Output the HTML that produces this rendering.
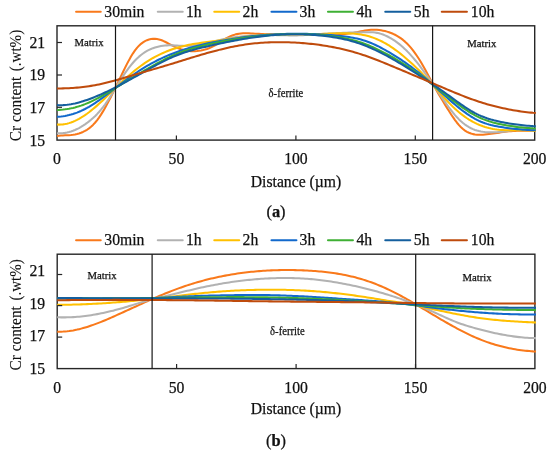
<!DOCTYPE html>
<html><head><meta charset="utf-8"><title>Cr content vs distance</title>
<style>
html,body{margin:0;padding:0;background:#fff;}
svg{display:block;}
text{font-family:"Liberation Serif","DejaVu Serif",serif;fill:#111;stroke:#111;stroke-width:0.25px;}
.t15{font-size:15.7px;}
.t17{font-size:17.2px;stroke-width:0.1px;}
.t11{font-size:10.7px;}
.t12{font-size:12.6px;}
.cap{font-size:16.4px;}
</style></head><body>
<svg width="550" height="452" viewBox="0 0 550 452">
<rect width="550" height="452" fill="#fff"/>
<line x1="76.1" y1="11.8" x2="100.7" y2="11.8" stroke="#F9791B" stroke-width="2.1" stroke-linecap="round"/>
<text x="104.3" y="16.8" class="t15">30min</text>
<line x1="157.8" y1="11.8" x2="182.7" y2="11.8" stroke="#B2B2B2" stroke-width="2.1" stroke-linecap="round"/>
<text x="186" y="16.8" class="t15">1h</text>
<line x1="214.3" y1="11.8" x2="239.2" y2="11.8" stroke="#FFC000" stroke-width="2.1" stroke-linecap="round"/>
<text x="242.6" y="16.8" class="t15">2h</text>
<line x1="271.5" y1="11.8" x2="296.4" y2="11.8" stroke="#1269CC" stroke-width="2.1" stroke-linecap="round"/>
<text x="299.6" y="16.8" class="t15">3h</text>
<line x1="328.0" y1="11.8" x2="352.9" y2="11.8" stroke="#3FB034" stroke-width="2.1" stroke-linecap="round"/>
<text x="356.4" y="16.8" class="t15">4h</text>
<line x1="385.3" y1="11.8" x2="410.2" y2="11.8" stroke="#145F9E" stroke-width="2.1" stroke-linecap="round"/>
<text x="413.8" y="16.8" class="t15">5h</text>
<line x1="441.8" y1="11.8" x2="466.9" y2="11.8" stroke="#BF4B0C" stroke-width="2.1" stroke-linecap="round"/>
<text x="470.8" y="16.8" class="t15">10h</text>
<rect x="57.0" y="25.8" width="477.70000000000005" height="114.3" fill="none" stroke="#262626" stroke-width="1.4"/>
<path d="M57.0,136.08 L59.0,135.77 L61.0,135.56 L63.0,135.43 L65.0,135.35 L67.0,135.27 L69.0,135.17 L71.0,135.02 L73.0,134.78 L75.0,134.46 L77.0,134.02 L79.0,133.47 L81.0,132.78 L83.0,131.94 L85.0,130.94 L87.0,129.76 L89.0,128.37 L91.0,126.75 L93.0,124.89 L95.0,122.75 L97.0,120.32 L99.0,117.60 L101.0,114.62 L103.0,111.40 L105.0,107.96 L107.0,104.35 L109.0,100.57 L111.0,96.67 L113.0,92.65 L115.0,88.56 L117.0,84.42 L119.0,80.25 L121.0,76.08 L123.0,71.94 L125.0,67.86 L127.0,63.91 L129.0,60.13 L131.0,56.58 L133.0,53.31 L135.0,50.39 L137.0,47.84 L139.0,45.67 L141.0,43.84 L143.0,42.33 L145.0,41.12 L147.0,40.19 L149.0,39.51 L151.0,39.07 L153.0,38.85 L155.0,38.85 L157.0,39.06 L159.0,39.46 L161.0,40.05 L163.0,40.82 L165.0,41.73 L167.0,42.73 L169.0,43.79 L171.0,44.86 L173.0,45.90 L175.0,46.87 L177.0,47.75 L179.0,48.54 L181.0,49.23 L183.0,49.82 L185.0,50.31 L187.0,50.69 L189.0,50.97 L191.0,51.14 L193.0,51.20 L195.0,51.17 L197.0,51.04 L199.0,50.82 L201.0,50.51 L203.0,50.10 L205.0,49.60 L207.0,48.98 L209.0,48.25 L211.0,47.39 L213.0,46.39 L215.0,45.27 L217.0,44.04 L219.0,42.75 L221.0,41.45 L223.0,40.16 L225.0,38.94 L227.0,37.83 L229.0,36.84 L231.0,35.97 L233.0,35.23 L235.0,34.61 L237.0,34.12 L239.0,33.74 L241.0,33.49 L243.0,33.34 L245.0,33.28 L247.0,33.29 L249.0,33.35 L251.0,33.44 L253.0,33.55 L255.0,33.66 L257.0,33.78 L259.0,33.89 L261.0,33.99 L263.0,34.09 L265.0,34.17 L267.0,34.23 L269.0,34.28 L271.0,34.33 L273.0,34.37 L275.0,34.41 L277.0,34.47 L279.0,34.53 L281.0,34.62 L283.0,34.70 L285.0,34.79 L287.0,34.86 L289.0,34.92 L291.0,34.95 L293.0,34.95 L295.0,34.93 L297.0,34.88 L299.0,34.82 L301.0,34.74 L303.0,34.66 L305.0,34.58 L307.0,34.49 L309.0,34.41 L311.0,34.33 L313.0,34.26 L315.0,34.19 L317.0,34.12 L319.0,34.06 L321.0,34.00 L323.0,33.96 L325.0,33.94 L327.0,33.93 L329.0,33.94 L331.0,33.98 L333.0,34.04 L335.0,34.11 L337.0,34.17 L339.0,34.20 L341.0,34.20 L343.0,34.14 L345.0,34.02 L347.0,33.83 L349.0,33.60 L351.0,33.31 L353.0,32.97 L355.0,32.59 L357.0,32.18 L359.0,31.75 L361.0,31.32 L363.0,30.90 L365.0,30.52 L367.0,30.19 L369.0,29.94 L371.0,29.78 L373.0,29.71 L375.0,29.73 L377.0,29.83 L379.0,30.03 L381.0,30.30 L383.0,30.65 L385.0,31.09 L387.0,31.62 L389.0,32.24 L391.0,32.97 L393.0,33.80 L395.0,34.76 L397.0,35.83 L399.0,37.04 L401.0,38.41 L403.0,39.93 L405.0,41.63 L407.0,43.51 L409.0,45.60 L411.0,47.90 L413.0,50.39 L415.0,53.08 L417.0,55.96 L419.0,59.03 L421.0,62.29 L423.0,65.72 L425.0,69.28 L427.0,72.94 L429.0,76.65 L431.0,80.37 L433.0,84.06 L435.0,87.67 L437.0,91.19 L439.0,94.64 L441.0,98.01 L443.0,101.33 L445.0,104.60 L447.0,107.84 L449.0,111.04 L451.0,114.18 L453.0,117.21 L455.0,120.07 L457.0,122.73 L459.0,125.14 L461.0,127.25 L463.0,129.05 L465.0,130.56 L467.0,131.80 L469.0,132.79 L471.0,133.56 L473.0,134.12 L475.0,134.50 L477.0,134.73 L479.0,134.81 L481.0,134.79 L483.0,134.68 L485.0,134.50 L487.0,134.29 L489.0,134.05 L491.0,133.79 L493.0,133.51 L495.0,133.22 L497.0,132.93 L499.0,132.63 L501.0,132.34 L503.0,132.06 L505.0,131.79 L507.0,131.54 L509.0,131.32 L511.0,131.13 L513.0,130.98 L515.0,130.87 L517.0,130.78 L519.0,130.72 L521.0,130.68 L523.0,130.66 L525.0,130.64 L527.0,130.63 L529.0,130.61 L531.0,130.58 L533.0,130.52 L535.8,130.46" fill="none" stroke="#F9791B" stroke-width="2.05" stroke-linejoin="round" stroke-linecap="butt"/>
<path d="M57.0,133.23 L59.0,133.31 L61.0,133.28 L63.0,133.14 L65.0,132.88 L67.0,132.52 L69.0,132.04 L71.0,131.46 L73.0,130.76 L75.0,129.96 L77.0,129.05 L79.0,128.04 L81.0,126.92 L83.0,125.69 L85.0,124.36 L87.0,122.94 L89.0,121.41 L91.0,119.78 L93.0,118.03 L95.0,116.17 L97.0,114.16 L99.0,112.01 L101.0,109.69 L103.0,107.20 L105.0,104.52 L107.0,101.65 L109.0,98.62 L111.0,95.46 L113.0,92.23 L115.0,88.94 L117.0,85.65 L119.0,82.40 L121.0,79.21 L123.0,76.14 L125.0,73.18 L127.0,70.35 L129.0,67.66 L131.0,65.12 L133.0,62.74 L135.0,60.53 L137.0,58.50 L139.0,56.65 L141.0,54.98 L143.0,53.48 L145.0,52.14 L147.0,50.95 L149.0,49.90 L151.0,48.98 L153.0,48.17 L155.0,47.49 L157.0,46.90 L159.0,46.42 L161.0,46.04 L163.0,45.74 L165.0,45.53 L167.0,45.39 L169.0,45.33 L171.0,45.34 L173.0,45.39 L175.0,45.49 L177.0,45.60 L179.0,45.71 L181.0,45.82 L183.0,45.89 L185.0,45.92 L187.0,45.89 L189.0,45.81 L191.0,45.67 L193.0,45.48 L195.0,45.24 L197.0,44.96 L199.0,44.65 L201.0,44.29 L203.0,43.91 L205.0,43.50 L207.0,43.06 L209.0,42.61 L211.0,42.15 L213.0,41.68 L215.0,41.21 L217.0,40.74 L219.0,40.27 L221.0,39.82 L223.0,39.37 L225.0,38.95 L227.0,38.54 L229.0,38.15 L231.0,37.79 L233.0,37.46 L235.0,37.16 L237.0,36.89 L239.0,36.65 L241.0,36.43 L243.0,36.23 L245.0,36.06 L247.0,35.90 L249.0,35.76 L251.0,35.63 L253.0,35.51 L255.0,35.41 L257.0,35.32 L259.0,35.24 L261.0,35.18 L263.0,35.13 L265.0,35.09 L267.0,35.06 L269.0,35.05 L271.0,35.05 L273.0,35.06 L275.0,35.08 L277.0,35.11 L279.0,35.15 L281.0,35.20 L283.0,35.25 L285.0,35.30 L287.0,35.35 L289.0,35.40 L291.0,35.43 L293.0,35.44 L295.0,35.43 L297.0,35.40 L299.0,35.34 L301.0,35.25 L303.0,35.14 L305.0,35.01 L307.0,34.88 L309.0,34.74 L311.0,34.60 L313.0,34.46 L315.0,34.34 L317.0,34.23 L319.0,34.12 L321.0,34.01 L323.0,33.91 L325.0,33.81 L327.0,33.70 L329.0,33.59 L331.0,33.48 L333.0,33.36 L335.0,33.24 L337.0,33.13 L339.0,33.01 L341.0,32.91 L343.0,32.82 L345.0,32.74 L347.0,32.68 L349.0,32.63 L351.0,32.59 L353.0,32.55 L355.0,32.51 L357.0,32.48 L359.0,32.43 L361.0,32.37 L363.0,32.30 L365.0,32.23 L367.0,32.19 L369.0,32.18 L371.0,32.22 L373.0,32.34 L375.0,32.55 L377.0,32.87 L379.0,33.30 L381.0,33.87 L383.0,34.55 L385.0,35.34 L387.0,36.25 L389.0,37.27 L391.0,38.40 L393.0,39.63 L395.0,40.95 L397.0,42.38 L399.0,43.91 L401.0,45.55 L403.0,47.29 L405.0,49.13 L407.0,51.09 L409.0,53.15 L411.0,55.33 L413.0,57.60 L415.0,59.98 L417.0,62.44 L419.0,64.98 L421.0,67.60 L423.0,70.29 L425.0,73.03 L427.0,75.82 L429.0,78.66 L431.0,81.53 L433.0,84.43 L435.0,87.35 L437.0,90.28 L439.0,93.22 L441.0,96.14 L443.0,99.06 L445.0,101.94 L447.0,104.76 L449.0,107.51 L451.0,110.16 L453.0,112.70 L455.0,115.09 L457.0,117.33 L459.0,119.39 L461.0,121.28 L463.0,122.99 L465.0,124.54 L467.0,125.92 L469.0,127.15 L471.0,128.23 L473.0,129.15 L475.0,129.93 L477.0,130.58 L479.0,131.11 L481.0,131.53 L483.0,131.85 L485.0,132.08 L487.0,132.23 L489.0,132.32 L491.0,132.36 L493.0,132.34 L495.0,132.27 L497.0,132.17 L499.0,132.02 L501.0,131.84 L503.0,131.63 L505.0,131.39 L507.0,131.13 L509.0,130.85 L511.0,130.57 L513.0,130.30 L515.0,130.04 L517.0,129.80 L519.0,129.59 L521.0,129.43 L523.0,129.31 L525.0,129.25 L527.0,129.26 L529.0,129.32 L531.0,129.46 L533.0,129.67 L535.8,129.91" fill="none" stroke="#B2B2B2" stroke-width="2.05" stroke-linejoin="round" stroke-linecap="butt"/>
<path d="M57.0,124.58 L59.0,124.63 L61.0,124.56 L63.0,124.38 L65.0,124.07 L67.0,123.66 L69.0,123.13 L71.0,122.49 L73.0,121.74 L75.0,120.89 L77.0,119.93 L79.0,118.88 L81.0,117.72 L83.0,116.48 L85.0,115.15 L87.0,113.73 L89.0,112.24 L91.0,110.68 L93.0,109.06 L95.0,107.37 L97.0,105.63 L99.0,103.84 L101.0,102.01 L103.0,100.14 L105.0,98.24 L107.0,96.32 L109.0,94.37 L111.0,92.42 L113.0,90.46 L115.0,88.51 L117.0,86.56 L119.0,84.63 L121.0,82.72 L123.0,80.84 L125.0,78.99 L127.0,77.18 L129.0,75.41 L131.0,73.68 L133.0,72.00 L135.0,70.36 L137.0,68.77 L139.0,67.23 L141.0,65.74 L143.0,64.30 L145.0,62.92 L147.0,61.61 L149.0,60.34 L151.0,59.14 L153.0,57.98 L155.0,56.88 L157.0,55.83 L159.0,54.83 L161.0,53.88 L163.0,52.98 L165.0,52.12 L167.0,51.30 L169.0,50.52 L171.0,49.79 L173.0,49.09 L175.0,48.44 L177.0,47.82 L179.0,47.24 L181.0,46.69 L183.0,46.18 L185.0,45.70 L187.0,45.26 L189.0,44.84 L191.0,44.46 L193.0,44.10 L195.0,43.77 L197.0,43.45 L199.0,43.16 L201.0,42.87 L203.0,42.60 L205.0,42.34 L207.0,42.08 L209.0,41.82 L211.0,41.56 L213.0,41.29 L215.0,41.02 L217.0,40.74 L219.0,40.47 L221.0,40.18 L223.0,39.90 L225.0,39.61 L227.0,39.33 L229.0,39.04 L231.0,38.75 L233.0,38.47 L235.0,38.18 L237.0,37.90 L239.0,37.62 L241.0,37.35 L243.0,37.09 L245.0,36.83 L247.0,36.58 L249.0,36.34 L251.0,36.11 L253.0,35.89 L255.0,35.69 L257.0,35.50 L259.0,35.32 L261.0,35.16 L263.0,35.01 L265.0,34.87 L267.0,34.75 L269.0,34.64 L271.0,34.55 L273.0,34.46 L275.0,34.39 L277.0,34.33 L279.0,34.28 L281.0,34.24 L283.0,34.22 L285.0,34.19 L287.0,34.18 L289.0,34.17 L291.0,34.17 L293.0,34.17 L295.0,34.17 L297.0,34.17 L299.0,34.17 L301.0,34.17 L303.0,34.17 L305.0,34.16 L307.0,34.15 L309.0,34.13 L311.0,34.11 L313.0,34.08 L315.0,34.05 L317.0,34.01 L319.0,33.96 L321.0,33.90 L323.0,33.84 L325.0,33.77 L327.0,33.69 L329.0,33.61 L331.0,33.54 L333.0,33.47 L335.0,33.40 L337.0,33.35 L339.0,33.30 L341.0,33.27 L343.0,33.26 L345.0,33.27 L347.0,33.31 L349.0,33.37 L351.0,33.46 L353.0,33.59 L355.0,33.75 L357.0,33.96 L359.0,34.22 L361.0,34.53 L363.0,34.89 L365.0,35.32 L367.0,35.80 L369.0,36.35 L371.0,36.96 L373.0,37.64 L375.0,38.38 L377.0,39.19 L379.0,40.07 L381.0,41.02 L383.0,42.03 L385.0,43.11 L387.0,44.26 L389.0,45.49 L391.0,46.78 L393.0,48.13 L395.0,49.55 L397.0,51.02 L399.0,52.55 L401.0,54.14 L403.0,55.77 L405.0,57.45 L407.0,59.17 L409.0,60.94 L411.0,62.74 L413.0,64.58 L415.0,66.46 L417.0,68.38 L419.0,70.33 L421.0,72.32 L423.0,74.35 L425.0,76.42 L427.0,78.53 L429.0,80.68 L431.0,82.86 L433.0,85.08 L435.0,87.33 L437.0,89.60 L439.0,91.86 L441.0,94.12 L443.0,96.36 L445.0,98.57 L447.0,100.74 L449.0,102.86 L451.0,104.90 L453.0,106.87 L455.0,108.76 L457.0,110.56 L459.0,112.27 L461.0,113.89 L463.0,115.43 L465.0,116.88 L467.0,118.25 L469.0,119.54 L471.0,120.74 L473.0,121.87 L475.0,122.91 L477.0,123.88 L479.0,124.76 L481.0,125.58 L483.0,126.31 L485.0,126.98 L487.0,127.58 L489.0,128.10 L491.0,128.57 L493.0,128.96 L495.0,129.30 L497.0,129.57 L499.0,129.79 L501.0,129.95 L503.0,130.07 L505.0,130.15 L507.0,130.20 L509.0,130.22 L511.0,130.22 L513.0,130.20 L515.0,130.18 L517.0,130.16 L519.0,130.15 L521.0,130.15 L523.0,130.16 L525.0,130.20 L527.0,130.27 L529.0,130.37 L531.0,130.50 L533.0,130.68 L535.8,130.87" fill="none" stroke="#FFC000" stroke-width="2.05" stroke-linejoin="round" stroke-linecap="butt"/>
<path d="M57.0,116.75 L59.0,116.65 L61.0,116.48 L63.0,116.25 L65.0,115.94 L67.0,115.56 L69.0,115.11 L71.0,114.59 L73.0,114.00 L75.0,113.34 L77.0,112.61 L79.0,111.81 L81.0,110.94 L83.0,110.00 L85.0,108.99 L87.0,107.92 L89.0,106.78 L91.0,105.58 L93.0,104.33 L95.0,103.03 L97.0,101.69 L99.0,100.30 L101.0,98.88 L103.0,97.43 L105.0,95.96 L107.0,94.46 L109.0,92.95 L111.0,91.43 L113.0,89.90 L115.0,88.38 L117.0,86.85 L119.0,85.32 L121.0,83.81 L123.0,82.30 L125.0,80.81 L127.0,79.33 L129.0,77.87 L131.0,76.43 L133.0,75.01 L135.0,73.62 L137.0,72.26 L139.0,70.92 L141.0,69.63 L143.0,68.37 L145.0,67.14 L147.0,65.96 L149.0,64.80 L151.0,63.69 L153.0,62.60 L155.0,61.55 L157.0,60.53 L159.0,59.54 L161.0,58.59 L163.0,57.66 L165.0,56.76 L167.0,55.89 L169.0,55.05 L171.0,54.24 L173.0,53.45 L175.0,52.69 L177.0,51.96 L179.0,51.25 L181.0,50.56 L183.0,49.90 L185.0,49.26 L187.0,48.65 L189.0,48.05 L191.0,47.47 L193.0,46.92 L195.0,46.38 L197.0,45.87 L199.0,45.37 L201.0,44.89 L203.0,44.42 L205.0,43.98 L207.0,43.54 L209.0,43.12 L211.0,42.71 L213.0,42.32 L215.0,41.93 L217.0,41.56 L219.0,41.19 L221.0,40.83 L223.0,40.48 L225.0,40.14 L227.0,39.80 L229.0,39.47 L231.0,39.14 L233.0,38.83 L235.0,38.52 L237.0,38.21 L239.0,37.92 L241.0,37.63 L243.0,37.35 L245.0,37.09 L247.0,36.83 L249.0,36.58 L251.0,36.34 L253.0,36.12 L255.0,35.90 L257.0,35.70 L259.0,35.51 L261.0,35.33 L263.0,35.16 L265.0,35.00 L267.0,34.85 L269.0,34.72 L271.0,34.59 L273.0,34.47 L275.0,34.36 L277.0,34.26 L279.0,34.17 L281.0,34.08 L283.0,34.01 L285.0,33.95 L287.0,33.89 L289.0,33.84 L291.0,33.80 L293.0,33.78 L295.0,33.76 L297.0,33.75 L299.0,33.75 L301.0,33.76 L303.0,33.78 L305.0,33.81 L307.0,33.85 L309.0,33.90 L311.0,33.96 L313.0,34.03 L315.0,34.12 L317.0,34.21 L319.0,34.31 L321.0,34.42 L323.0,34.55 L325.0,34.68 L327.0,34.82 L329.0,34.97 L331.0,35.13 L333.0,35.30 L335.0,35.48 L337.0,35.66 L339.0,35.86 L341.0,36.07 L343.0,36.29 L345.0,36.53 L347.0,36.80 L349.0,37.09 L351.0,37.41 L353.0,37.76 L355.0,38.15 L357.0,38.58 L359.0,39.06 L361.0,39.59 L363.0,40.16 L365.0,40.79 L367.0,41.48 L369.0,42.23 L371.0,43.02 L373.0,43.87 L375.0,44.77 L377.0,45.71 L379.0,46.70 L381.0,47.73 L383.0,48.79 L385.0,49.89 L387.0,51.03 L389.0,52.19 L391.0,53.38 L393.0,54.60 L395.0,55.84 L397.0,57.11 L399.0,58.39 L401.0,59.71 L403.0,61.05 L405.0,62.42 L407.0,63.82 L409.0,65.25 L411.0,66.70 L413.0,68.20 L415.0,69.72 L417.0,71.28 L419.0,72.87 L421.0,74.51 L423.0,76.17 L425.0,77.87 L427.0,79.60 L429.0,81.36 L431.0,83.14 L433.0,84.93 L435.0,86.74 L437.0,88.55 L439.0,90.37 L441.0,92.19 L443.0,94.00 L445.0,95.81 L447.0,97.60 L449.0,99.38 L451.0,101.14 L453.0,102.87 L455.0,104.57 L457.0,106.24 L459.0,107.87 L461.0,109.45 L463.0,110.98 L465.0,112.45 L467.0,113.87 L469.0,115.22 L471.0,116.50 L473.0,117.71 L475.0,118.84 L477.0,119.88 L479.0,120.84 L481.0,121.71 L483.0,122.51 L485.0,123.23 L487.0,123.88 L489.0,124.47 L491.0,125.01 L493.0,125.49 L495.0,125.93 L497.0,126.33 L499.0,126.69 L501.0,127.03 L503.0,127.34 L505.0,127.64 L507.0,127.92 L509.0,128.18 L511.0,128.44 L513.0,128.68 L515.0,128.90 L517.0,129.12 L519.0,129.31 L521.0,129.49 L523.0,129.66 L525.0,129.81 L527.0,129.94 L529.0,130.06 L531.0,130.16 L533.0,130.24 L535.8,130.29" fill="none" stroke="#1269CC" stroke-width="2.05" stroke-linejoin="round" stroke-linecap="butt"/>
<path d="M57.0,109.94 L59.0,109.87 L61.0,109.74 L63.0,109.56 L65.0,109.33 L67.0,109.05 L69.0,108.72 L71.0,108.33 L73.0,107.89 L75.0,107.40 L77.0,106.86 L79.0,106.26 L81.0,105.61 L83.0,104.91 L85.0,104.16 L87.0,103.35 L89.0,102.50 L91.0,101.59 L93.0,100.64 L95.0,99.64 L97.0,98.61 L99.0,97.55 L101.0,96.45 L103.0,95.32 L105.0,94.18 L107.0,93.01 L109.0,91.82 L111.0,90.62 L113.0,89.41 L115.0,88.20 L117.0,86.98 L119.0,85.77 L121.0,84.55 L123.0,83.34 L125.0,82.13 L127.0,80.92 L129.0,79.71 L131.0,78.51 L133.0,77.31 L135.0,76.12 L137.0,74.93 L139.0,73.75 L141.0,72.58 L143.0,71.41 L145.0,70.24 L147.0,69.09 L149.0,67.94 L151.0,66.81 L153.0,65.68 L155.0,64.57 L157.0,63.47 L159.0,62.39 L161.0,61.33 L163.0,60.29 L165.0,59.28 L167.0,58.29 L169.0,57.33 L171.0,56.39 L173.0,55.49 L175.0,54.62 L177.0,53.79 L179.0,52.99 L181.0,52.23 L183.0,51.50 L185.0,50.80 L187.0,50.13 L189.0,49.49 L191.0,48.88 L193.0,48.29 L195.0,47.73 L197.0,47.18 L199.0,46.66 L201.0,46.15 L203.0,45.66 L205.0,45.18 L207.0,44.71 L209.0,44.26 L211.0,43.82 L213.0,43.38 L215.0,42.96 L217.0,42.55 L219.0,42.15 L221.0,41.76 L223.0,41.38 L225.0,41.01 L227.0,40.65 L229.0,40.30 L231.0,39.96 L233.0,39.63 L235.0,39.31 L237.0,39.00 L239.0,38.70 L241.0,38.40 L243.0,38.12 L245.0,37.85 L247.0,37.59 L249.0,37.33 L251.0,37.09 L253.0,36.85 L255.0,36.63 L257.0,36.41 L259.0,36.20 L261.0,35.99 L263.0,35.80 L265.0,35.61 L267.0,35.44 L269.0,35.27 L271.0,35.10 L273.0,34.95 L275.0,34.81 L277.0,34.67 L279.0,34.55 L281.0,34.44 L283.0,34.34 L285.0,34.25 L287.0,34.17 L289.0,34.11 L291.0,34.06 L293.0,34.02 L295.0,34.01 L297.0,34.00 L299.0,34.01 L301.0,34.04 L303.0,34.08 L305.0,34.14 L307.0,34.21 L309.0,34.30 L311.0,34.40 L313.0,34.52 L315.0,34.65 L317.0,34.79 L319.0,34.95 L321.0,35.12 L323.0,35.31 L325.0,35.50 L327.0,35.71 L329.0,35.93 L331.0,36.16 L333.0,36.41 L335.0,36.68 L337.0,36.97 L339.0,37.27 L341.0,37.60 L343.0,37.96 L345.0,38.34 L347.0,38.75 L349.0,39.19 L351.0,39.66 L353.0,40.17 L355.0,40.71 L357.0,41.30 L359.0,41.91 L361.0,42.57 L363.0,43.27 L365.0,44.00 L367.0,44.77 L369.0,45.57 L371.0,46.41 L373.0,47.27 L375.0,48.17 L377.0,49.10 L379.0,50.06 L381.0,51.05 L383.0,52.06 L385.0,53.10 L387.0,54.17 L389.0,55.26 L391.0,56.38 L393.0,57.51 L395.0,58.68 L397.0,59.86 L399.0,61.07 L401.0,62.30 L403.0,63.56 L405.0,64.83 L407.0,66.13 L409.0,67.45 L411.0,68.79 L413.0,70.16 L415.0,71.54 L417.0,72.95 L419.0,74.37 L421.0,75.82 L423.0,77.28 L425.0,78.76 L427.0,80.26 L429.0,81.76 L431.0,83.28 L433.0,84.81 L435.0,86.35 L437.0,87.90 L439.0,89.46 L441.0,91.02 L443.0,92.58 L445.0,94.14 L447.0,95.71 L449.0,97.27 L451.0,98.83 L453.0,100.38 L455.0,101.91 L457.0,103.42 L459.0,104.91 L461.0,106.37 L463.0,107.79 L465.0,109.17 L467.0,110.51 L469.0,111.80 L471.0,113.04 L473.0,114.22 L475.0,115.33 L477.0,116.37 L479.0,117.35 L481.0,118.25 L483.0,119.09 L485.0,119.86 L487.0,120.58 L489.0,121.25 L491.0,121.86 L493.0,122.43 L495.0,122.95 L497.0,123.44 L499.0,123.89 L501.0,124.31 L503.0,124.70 L505.0,125.07 L507.0,125.42 L509.0,125.75 L511.0,126.06 L513.0,126.36 L515.0,126.64 L517.0,126.91 L519.0,127.15 L521.0,127.38 L523.0,127.59 L525.0,127.78 L527.0,127.95 L529.0,128.09 L531.0,128.22 L533.0,128.33 L535.8,128.41" fill="none" stroke="#3FB034" stroke-width="2.05" stroke-linejoin="round" stroke-linecap="butt"/>
<path d="M57.0,105.13 L59.0,105.20 L61.0,105.20 L63.0,105.13 L65.0,104.99 L67.0,104.79 L69.0,104.52 L71.0,104.20 L73.0,103.83 L75.0,103.40 L77.0,102.92 L79.0,102.40 L81.0,101.84 L83.0,101.23 L85.0,100.59 L87.0,99.91 L89.0,99.20 L91.0,98.46 L93.0,97.69 L95.0,96.90 L97.0,96.07 L99.0,95.22 L101.0,94.35 L103.0,93.45 L105.0,92.53 L107.0,91.59 L109.0,90.63 L111.0,89.65 L113.0,88.65 L115.0,87.64 L117.0,86.61 L119.0,85.57 L121.0,84.51 L123.0,83.44 L125.0,82.37 L127.0,81.28 L129.0,80.18 L131.0,79.08 L133.0,77.97 L135.0,76.86 L137.0,75.74 L139.0,74.62 L141.0,73.50 L143.0,72.38 L145.0,71.26 L147.0,70.15 L149.0,69.04 L151.0,67.93 L153.0,66.84 L155.0,65.75 L157.0,64.68 L159.0,63.63 L161.0,62.59 L163.0,61.57 L165.0,60.58 L167.0,59.61 L169.0,58.66 L171.0,57.75 L173.0,56.87 L175.0,56.02 L177.0,55.21 L179.0,54.43 L181.0,53.70 L183.0,52.99 L185.0,52.32 L187.0,51.68 L189.0,51.07 L191.0,50.48 L193.0,49.92 L195.0,49.37 L197.0,48.85 L199.0,48.34 L201.0,47.84 L203.0,47.36 L205.0,46.88 L207.0,46.42 L209.0,45.95 L211.0,45.50 L213.0,45.05 L215.0,44.60 L217.0,44.16 L219.0,43.73 L221.0,43.30 L223.0,42.88 L225.0,42.47 L227.0,42.06 L229.0,41.66 L231.0,41.27 L233.0,40.88 L235.0,40.50 L237.0,40.13 L239.0,39.76 L241.0,39.41 L243.0,39.06 L245.0,38.72 L247.0,38.39 L249.0,38.08 L251.0,37.77 L253.0,37.47 L255.0,37.18 L257.0,36.90 L259.0,36.64 L261.0,36.38 L263.0,36.14 L265.0,35.91 L267.0,35.69 L269.0,35.49 L271.0,35.30 L273.0,35.13 L275.0,34.96 L277.0,34.82 L279.0,34.68 L281.0,34.57 L283.0,34.46 L285.0,34.37 L287.0,34.30 L289.0,34.25 L291.0,34.20 L293.0,34.18 L295.0,34.17 L297.0,34.18 L299.0,34.21 L301.0,34.25 L303.0,34.31 L305.0,34.39 L307.0,34.48 L309.0,34.59 L311.0,34.71 L313.0,34.86 L315.0,35.01 L317.0,35.19 L319.0,35.38 L321.0,35.58 L323.0,35.80 L325.0,36.04 L327.0,36.29 L329.0,36.56 L331.0,36.84 L333.0,37.14 L335.0,37.46 L337.0,37.80 L339.0,38.17 L341.0,38.55 L343.0,38.97 L345.0,39.41 L347.0,39.87 L349.0,40.37 L351.0,40.90 L353.0,41.46 L355.0,42.05 L357.0,42.68 L359.0,43.35 L361.0,44.05 L363.0,44.78 L365.0,45.55 L367.0,46.35 L369.0,47.18 L371.0,48.05 L373.0,48.94 L375.0,49.86 L377.0,50.81 L379.0,51.79 L381.0,52.79 L383.0,53.81 L385.0,54.86 L387.0,55.93 L389.0,57.02 L391.0,58.14 L393.0,59.27 L395.0,60.42 L397.0,61.59 L399.0,62.77 L401.0,63.97 L403.0,65.18 L405.0,66.41 L407.0,67.65 L409.0,68.90 L411.0,70.16 L413.0,71.42 L415.0,72.70 L417.0,73.98 L419.0,75.27 L421.0,76.56 L423.0,77.86 L425.0,79.17 L427.0,80.48 L429.0,81.81 L431.0,83.14 L433.0,84.48 L435.0,85.84 L437.0,87.20 L439.0,88.58 L441.0,89.97 L443.0,91.37 L445.0,92.78 L447.0,94.21 L449.0,95.66 L451.0,97.11 L453.0,98.56 L455.0,100.01 L457.0,101.46 L459.0,102.89 L461.0,104.30 L463.0,105.68 L465.0,107.03 L467.0,108.34 L469.0,109.61 L471.0,110.83 L473.0,111.99 L475.0,113.09 L477.0,114.12 L479.0,115.08 L481.0,115.98 L483.0,116.80 L485.0,117.57 L487.0,118.28 L489.0,118.93 L491.0,119.54 L493.0,120.10 L495.0,120.62 L497.0,121.09 L499.0,121.54 L501.0,121.96 L503.0,122.35 L505.0,122.71 L507.0,123.06 L509.0,123.39 L511.0,123.71 L513.0,124.02 L515.0,124.31 L517.0,124.58 L519.0,124.83 L521.0,125.07 L523.0,125.30 L525.0,125.50 L527.0,125.69 L529.0,125.85 L531.0,126.00 L533.0,126.13 L535.8,126.23" fill="none" stroke="#145F9E" stroke-width="2.05" stroke-linejoin="round" stroke-linecap="butt"/>
<path d="M57.0,88.45 L59.0,88.44 L61.0,88.42 L63.0,88.38 L65.0,88.32 L67.0,88.25 L69.0,88.16 L71.0,88.05 L73.0,87.92 L75.0,87.78 L77.0,87.61 L79.0,87.43 L81.0,87.22 L83.0,87.00 L85.0,86.75 L87.0,86.48 L89.0,86.19 L91.0,85.88 L93.0,85.54 L95.0,85.18 L97.0,84.79 L99.0,84.38 L101.0,83.95 L103.0,83.50 L105.0,83.03 L107.0,82.54 L109.0,82.04 L111.0,81.52 L113.0,80.99 L115.0,80.44 L117.0,79.89 L119.0,79.32 L121.0,78.75 L123.0,78.17 L125.0,77.59 L127.0,77.00 L129.0,76.41 L131.0,75.82 L133.0,75.23 L135.0,74.64 L137.0,74.06 L139.0,73.47 L141.0,72.89 L143.0,72.30 L145.0,71.72 L147.0,71.14 L149.0,70.55 L151.0,69.97 L153.0,69.38 L155.0,68.80 L157.0,68.21 L159.0,67.62 L161.0,67.03 L163.0,66.43 L165.0,65.84 L167.0,65.24 L169.0,64.63 L171.0,64.03 L173.0,63.41 L175.0,62.80 L177.0,62.18 L179.0,61.56 L181.0,60.94 L183.0,60.32 L185.0,59.70 L187.0,59.08 L189.0,58.46 L191.0,57.85 L193.0,57.24 L195.0,56.63 L197.0,56.02 L199.0,55.42 L201.0,54.83 L203.0,54.25 L205.0,53.67 L207.0,53.10 L209.0,52.54 L211.0,51.98 L213.0,51.44 L215.0,50.91 L217.0,50.39 L219.0,49.88 L221.0,49.39 L223.0,48.90 L225.0,48.43 L227.0,47.98 L229.0,47.54 L231.0,47.11 L233.0,46.70 L235.0,46.31 L237.0,45.93 L239.0,45.57 L241.0,45.22 L243.0,44.90 L245.0,44.59 L247.0,44.31 L249.0,44.04 L251.0,43.79 L253.0,43.56 L255.0,43.35 L257.0,43.16 L259.0,42.99 L261.0,42.84 L263.0,42.70 L265.0,42.58 L267.0,42.47 L269.0,42.39 L271.0,42.32 L273.0,42.26 L275.0,42.22 L277.0,42.19 L279.0,42.18 L281.0,42.19 L283.0,42.20 L285.0,42.23 L287.0,42.28 L289.0,42.33 L291.0,42.40 L293.0,42.49 L295.0,42.58 L297.0,42.70 L299.0,42.82 L301.0,42.96 L303.0,43.11 L305.0,43.28 L307.0,43.46 L309.0,43.65 L311.0,43.86 L313.0,44.08 L315.0,44.32 L317.0,44.57 L319.0,44.84 L321.0,45.12 L323.0,45.42 L325.0,45.73 L327.0,46.05 L329.0,46.40 L331.0,46.75 L333.0,47.13 L335.0,47.52 L337.0,47.93 L339.0,48.35 L341.0,48.79 L343.0,49.25 L345.0,49.73 L347.0,50.23 L349.0,50.74 L351.0,51.28 L353.0,51.83 L355.0,52.41 L357.0,53.00 L359.0,53.62 L361.0,54.25 L363.0,54.91 L365.0,55.58 L367.0,56.28 L369.0,56.99 L371.0,57.72 L373.0,58.47 L375.0,59.23 L377.0,60.00 L379.0,60.79 L381.0,61.58 L383.0,62.39 L385.0,63.20 L387.0,64.02 L389.0,64.85 L391.0,65.68 L393.0,66.52 L395.0,67.36 L397.0,68.20 L399.0,69.05 L401.0,69.89 L403.0,70.73 L405.0,71.57 L407.0,72.41 L409.0,73.25 L411.0,74.09 L413.0,74.94 L415.0,75.78 L417.0,76.62 L419.0,77.46 L421.0,78.31 L423.0,79.15 L425.0,79.99 L427.0,80.84 L429.0,81.69 L431.0,82.53 L433.0,83.38 L435.0,84.23 L437.0,85.08 L439.0,85.94 L441.0,86.79 L443.0,87.64 L445.0,88.49 L447.0,89.34 L449.0,90.19 L451.0,91.03 L453.0,91.86 L455.0,92.69 L457.0,93.51 L459.0,94.32 L461.0,95.12 L463.0,95.91 L465.0,96.68 L467.0,97.45 L469.0,98.20 L471.0,98.93 L473.0,99.64 L475.0,100.34 L477.0,101.02 L479.0,101.68 L481.0,102.33 L483.0,102.95 L485.0,103.56 L487.0,104.15 L489.0,104.71 L491.0,105.27 L493.0,105.80 L495.0,106.31 L497.0,106.81 L499.0,107.29 L501.0,107.75 L503.0,108.20 L505.0,108.62 L507.0,109.03 L509.0,109.43 L511.0,109.80 L513.0,110.16 L515.0,110.50 L517.0,110.82 L519.0,111.13 L521.0,111.42 L523.0,111.69 L525.0,111.95 L527.0,112.19 L529.0,112.42 L531.0,112.62 L533.0,112.81 L535.8,112.96" fill="none" stroke="#BF4B0C" stroke-width="2.05" stroke-linejoin="round" stroke-linecap="butt"/>
<line x1="115.5" y1="25.8" x2="115.5" y2="140.1" stroke="#161616" stroke-width="1.2"/>
<line x1="432.6" y1="25.8" x2="432.6" y2="140.1" stroke="#161616" stroke-width="1.2"/>
<line x1="57.0" y1="42.5" x2="62.0" y2="42.5" stroke="#262626" stroke-width="1.2"/>
<text x="45.1" y="47.6" class="t15" text-anchor="end">21</text>
<line x1="57.0" y1="75" x2="62.0" y2="75" stroke="#262626" stroke-width="1.2"/>
<text x="45.1" y="80.4" class="t15" text-anchor="end">19</text>
<line x1="57.0" y1="107.3" x2="62.0" y2="107.3" stroke="#262626" stroke-width="1.2"/>
<text x="45.1" y="113.1" class="t15" text-anchor="end">17</text>
<text x="45.1" y="145.6" class="t15" text-anchor="end">15</text>
<text x="57.0" y="164.2" class="t15" text-anchor="middle">0</text>
<line x1="176.4" y1="140.1" x2="176.4" y2="135.5" stroke="#262626" stroke-width="1.2"/>
<text x="176.4" y="164.2" class="t15" text-anchor="middle">50</text>
<line x1="295.9" y1="140.1" x2="295.9" y2="135.5" stroke="#262626" stroke-width="1.2"/>
<text x="295.9" y="164.2" class="t15" text-anchor="middle">100</text>
<line x1="415.3" y1="140.1" x2="415.3" y2="135.5" stroke="#262626" stroke-width="1.2"/>
<text x="415.3" y="164.2" class="t15" text-anchor="middle">150</text>
<text x="534.7" y="164.2" class="t15" text-anchor="middle">200</text>
<text x="296" y="186.8" class="t15" text-anchor="middle">Distance (µm)</text>
<text class="t17" transform="translate(20.6 141.3) rotate(-90)"><tspan x="0" y="0" textLength="64.5" lengthAdjust="spacingAndGlyphs">Cr content</tspan> <tspan x="70" y="0" textLength="41.5" lengthAdjust="spacingAndGlyphs">(.wt%)</tspan></text>
<text x="276" y="217" class="cap" text-anchor="middle">(<tspan font-weight="bold">a</tspan>)</text>
<text x="74.6" y="46.3" class="t11">Matrix</text>
<text x="467.3" y="46.8" class="t11">Matrix</text>
<text x="268.6" y="96.8" class="t12" textLength="34.6" lengthAdjust="spacingAndGlyphs">δ-ferrite</text>
<line x1="76.1" y1="240.2" x2="100.7" y2="240.2" stroke="#F9791B" stroke-width="2.1" stroke-linecap="round"/>
<text x="104.3" y="245.2" class="t15">30min</text>
<line x1="157.8" y1="240.2" x2="182.7" y2="240.2" stroke="#B2B2B2" stroke-width="2.1" stroke-linecap="round"/>
<text x="186" y="245.2" class="t15">1h</text>
<line x1="214.3" y1="240.2" x2="239.2" y2="240.2" stroke="#FFC000" stroke-width="2.1" stroke-linecap="round"/>
<text x="242.6" y="245.2" class="t15">2h</text>
<line x1="271.5" y1="240.2" x2="296.4" y2="240.2" stroke="#1269CC" stroke-width="2.1" stroke-linecap="round"/>
<text x="299.6" y="245.2" class="t15">3h</text>
<line x1="328.0" y1="240.2" x2="352.9" y2="240.2" stroke="#3FB034" stroke-width="2.1" stroke-linecap="round"/>
<text x="356.4" y="245.2" class="t15">4h</text>
<line x1="385.3" y1="240.2" x2="410.2" y2="240.2" stroke="#145F9E" stroke-width="2.1" stroke-linecap="round"/>
<text x="413.8" y="245.2" class="t15">5h</text>
<line x1="441.8" y1="240.2" x2="466.9" y2="240.2" stroke="#BF4B0C" stroke-width="2.1" stroke-linecap="round"/>
<text x="470.8" y="245.2" class="t15">10h</text>
<rect x="57.2" y="254.2" width="477.7" height="114.40000000000003" fill="none" stroke="#262626" stroke-width="1.4"/>
<path d="M57.2,331.70 L59.2,331.72 L61.2,331.69 L63.2,331.60 L65.2,331.46 L67.2,331.27 L69.2,331.03 L71.2,330.74 L73.2,330.41 L75.2,330.02 L77.2,329.60 L79.2,329.13 L81.2,328.63 L83.2,328.09 L85.2,327.51 L87.2,326.90 L89.2,326.25 L91.2,325.58 L93.2,324.88 L95.2,324.15 L97.2,323.40 L99.2,322.62 L101.2,321.83 L103.2,321.01 L105.2,320.18 L107.2,319.33 L109.2,318.47 L111.2,317.59 L113.2,316.71 L115.2,315.82 L117.2,314.92 L119.2,314.02 L121.2,313.11 L123.2,312.20 L125.2,311.29 L127.2,310.38 L129.2,309.46 L131.2,308.55 L133.2,307.63 L135.2,306.72 L137.2,305.81 L139.2,304.89 L141.2,303.99 L143.2,303.08 L145.2,302.18 L147.2,301.28 L149.2,300.39 L151.2,299.51 L153.2,298.63 L155.2,297.76 L157.2,296.90 L159.2,296.05 L161.2,295.21 L163.2,294.37 L165.2,293.55 L167.2,292.74 L169.2,291.94 L171.2,291.15 L173.2,290.38 L175.2,289.62 L177.2,288.88 L179.2,288.15 L181.2,287.44 L183.2,286.74 L185.2,286.06 L187.2,285.40 L189.2,284.75 L191.2,284.11 L193.2,283.49 L195.2,282.89 L197.2,282.30 L199.2,281.73 L201.2,281.17 L203.2,280.63 L205.2,280.10 L207.2,279.59 L209.2,279.09 L211.2,278.60 L213.2,278.13 L215.2,277.68 L217.2,277.24 L219.2,276.81 L221.2,276.40 L223.2,276.00 L225.2,275.62 L227.2,275.24 L229.2,274.89 L231.2,274.54 L233.2,274.22 L235.2,273.90 L237.2,273.60 L239.2,273.31 L241.2,273.03 L243.2,272.77 L245.2,272.52 L247.2,272.29 L249.2,272.06 L251.2,271.85 L253.2,271.65 L255.2,271.47 L257.2,271.29 L259.2,271.13 L261.2,270.98 L263.2,270.84 L265.2,270.71 L267.2,270.59 L269.2,270.48 L271.2,270.39 L273.2,270.30 L275.2,270.23 L277.2,270.17 L279.2,270.12 L281.2,270.08 L283.2,270.05 L285.2,270.03 L287.2,270.03 L289.2,270.03 L291.2,270.05 L293.2,270.07 L295.2,270.11 L297.2,270.16 L299.2,270.22 L301.2,270.29 L303.2,270.37 L305.2,270.46 L307.2,270.56 L309.2,270.67 L311.2,270.79 L313.2,270.93 L315.2,271.07 L317.2,271.23 L319.2,271.40 L321.2,271.59 L323.2,271.79 L325.2,272.00 L327.2,272.23 L329.2,272.48 L331.2,272.74 L333.2,273.02 L335.2,273.32 L337.2,273.63 L339.2,273.97 L341.2,274.32 L343.2,274.69 L345.2,275.08 L347.2,275.49 L349.2,275.93 L351.2,276.38 L353.2,276.86 L355.2,277.36 L357.2,277.89 L359.2,278.44 L361.2,279.02 L363.2,279.62 L365.2,280.25 L367.2,280.91 L369.2,281.60 L371.2,282.31 L373.2,283.05 L375.2,283.82 L377.2,284.61 L379.2,285.43 L381.2,286.28 L383.2,287.14 L385.2,288.04 L387.2,288.95 L389.2,289.89 L391.2,290.85 L393.2,291.84 L395.2,292.85 L397.2,293.88 L399.2,294.93 L401.2,296.00 L403.2,297.09 L405.2,298.20 L407.2,299.33 L409.2,300.48 L411.2,301.63 L413.2,302.80 L415.2,303.99 L417.2,305.17 L419.2,306.37 L421.2,307.57 L423.2,308.77 L425.2,309.97 L427.2,311.17 L429.2,312.37 L431.2,313.57 L433.2,314.77 L435.2,315.96 L437.2,317.15 L439.2,318.34 L441.2,319.52 L443.2,320.69 L445.2,321.85 L447.2,322.99 L449.2,324.13 L451.2,325.26 L453.2,326.37 L455.2,327.46 L457.2,328.54 L459.2,329.61 L461.2,330.65 L463.2,331.68 L465.2,332.68 L467.2,333.67 L469.2,334.63 L471.2,335.57 L473.2,336.48 L475.2,337.36 L477.2,338.22 L479.2,339.05 L481.2,339.85 L483.2,340.63 L485.2,341.37 L487.2,342.09 L489.2,342.78 L491.2,343.44 L493.2,344.08 L495.2,344.68 L497.2,345.26 L499.2,345.82 L501.2,346.34 L503.2,346.85 L505.2,347.32 L507.2,347.77 L509.2,348.19 L511.2,348.59 L513.2,348.96 L515.2,349.31 L517.2,349.64 L519.2,349.93 L521.2,350.21 L523.2,350.46 L525.2,350.68 L527.2,350.89 L529.2,351.07 L531.2,351.22 L533.2,351.36 L536.0,351.45" fill="none" stroke="#F9791B" stroke-width="2.05" stroke-linejoin="round" stroke-linecap="butt"/>
<path d="M57.2,317.27 L59.2,317.33 L61.2,317.38 L63.2,317.39 L65.2,317.39 L67.2,317.35 L69.2,317.30 L71.2,317.22 L73.2,317.11 L75.2,316.99 L77.2,316.84 L79.2,316.66 L81.2,316.47 L83.2,316.25 L85.2,316.01 L87.2,315.75 L89.2,315.47 L91.2,315.16 L93.2,314.84 L95.2,314.50 L97.2,314.13 L99.2,313.75 L101.2,313.36 L103.2,312.94 L105.2,312.51 L107.2,312.06 L109.2,311.60 L111.2,311.12 L113.2,310.63 L115.2,310.11 L117.2,309.59 L119.2,309.04 L121.2,308.48 L123.2,307.91 L125.2,307.32 L127.2,306.72 L129.2,306.10 L131.2,305.49 L133.2,304.86 L135.2,304.24 L137.2,303.62 L139.2,302.99 L141.2,302.38 L143.2,301.77 L145.2,301.18 L147.2,300.60 L149.2,300.04 L151.2,299.49 L153.2,298.97 L155.2,298.47 L157.2,298.00 L159.2,297.54 L161.2,297.09 L163.2,296.64 L165.2,296.20 L167.2,295.75 L169.2,295.29 L171.2,294.82 L173.2,294.34 L175.2,293.85 L177.2,293.36 L179.2,292.86 L181.2,292.35 L183.2,291.85 L185.2,291.36 L187.2,290.86 L189.2,290.38 L191.2,289.90 L193.2,289.43 L195.2,288.97 L197.2,288.51 L199.2,288.06 L201.2,287.62 L203.2,287.19 L205.2,286.76 L207.2,286.35 L209.2,285.94 L211.2,285.55 L213.2,285.16 L215.2,284.78 L217.2,284.41 L219.2,284.05 L221.2,283.70 L223.2,283.36 L225.2,283.03 L227.2,282.71 L229.2,282.40 L231.2,282.10 L233.2,281.81 L235.2,281.53 L237.2,281.26 L239.2,281.00 L241.2,280.75 L243.2,280.51 L245.2,280.28 L247.2,280.07 L249.2,279.86 L251.2,279.66 L253.2,279.48 L255.2,279.30 L257.2,279.14 L259.2,278.99 L261.2,278.85 L263.2,278.71 L265.2,278.59 L267.2,278.48 L269.2,278.38 L271.2,278.29 L273.2,278.22 L275.2,278.15 L277.2,278.10 L279.2,278.06 L281.2,278.03 L283.2,278.01 L285.2,278.01 L287.2,278.02 L289.2,278.04 L291.2,278.07 L293.2,278.12 L295.2,278.18 L297.2,278.25 L299.2,278.33 L301.2,278.43 L303.2,278.55 L305.2,278.67 L307.2,278.81 L309.2,278.97 L311.2,279.14 L313.2,279.32 L315.2,279.52 L317.2,279.73 L319.2,279.96 L321.2,280.19 L323.2,280.45 L325.2,280.71 L327.2,280.99 L329.2,281.28 L331.2,281.58 L333.2,281.90 L335.2,282.22 L337.2,282.56 L339.2,282.91 L341.2,283.27 L343.2,283.64 L345.2,284.03 L347.2,284.42 L349.2,284.82 L351.2,285.24 L353.2,285.66 L355.2,286.10 L357.2,286.54 L359.2,287.00 L361.2,287.47 L363.2,287.94 L365.2,288.43 L367.2,288.93 L369.2,289.44 L371.2,289.96 L373.2,290.49 L375.2,291.03 L377.2,291.58 L379.2,292.14 L381.2,292.72 L383.2,293.30 L385.2,293.90 L387.2,294.50 L389.2,295.12 L391.2,295.75 L393.2,296.39 L395.2,297.05 L397.2,297.71 L399.2,298.39 L401.2,299.08 L403.2,299.78 L405.2,300.50 L407.2,301.22 L409.2,301.96 L411.2,302.71 L413.2,303.47 L415.2,304.25 L417.2,305.04 L419.2,305.84 L421.2,306.65 L423.2,307.48 L425.2,308.33 L427.2,309.19 L429.2,310.06 L431.2,310.95 L433.2,311.85 L435.2,312.75 L437.2,313.66 L439.2,314.58 L441.2,315.49 L443.2,316.41 L445.2,317.33 L447.2,318.23 L449.2,319.13 L451.2,320.00 L453.2,320.85 L455.2,321.67 L457.2,322.45 L459.2,323.20 L461.2,323.91 L463.2,324.58 L465.2,325.23 L467.2,325.86 L469.2,326.46 L471.2,327.05 L473.2,327.62 L475.2,328.18 L477.2,328.73 L479.2,329.27 L481.2,329.80 L483.2,330.31 L485.2,330.82 L487.2,331.31 L489.2,331.79 L491.2,332.25 L493.2,332.71 L495.2,333.14 L497.2,333.57 L499.2,333.98 L501.2,334.37 L503.2,334.75 L505.2,335.11 L507.2,335.45 L509.2,335.78 L511.2,336.08 L513.2,336.37 L515.2,336.64 L517.2,336.89 L519.2,337.12 L521.2,337.33 L523.2,337.51 L525.2,337.67 L527.2,337.81 L529.2,337.93 L531.2,338.02 L533.2,338.09 L536.0,338.13" fill="none" stroke="#B2B2B2" stroke-width="2.05" stroke-linejoin="round" stroke-linecap="butt"/>
<path d="M57.2,304.82 L59.2,304.81 L61.2,304.80 L63.2,304.78 L65.2,304.76 L67.2,304.73 L69.2,304.69 L71.2,304.65 L73.2,304.60 L75.2,304.55 L77.2,304.49 L79.2,304.43 L81.2,304.36 L83.2,304.29 L85.2,304.21 L87.2,304.13 L89.2,304.04 L91.2,303.95 L93.2,303.85 L95.2,303.75 L97.2,303.64 L99.2,303.52 L101.2,303.41 L103.2,303.28 L105.2,303.16 L107.2,303.02 L109.2,302.89 L111.2,302.75 L113.2,302.60 L115.2,302.45 L117.2,302.29 L119.2,302.14 L121.2,301.97 L123.2,301.81 L125.2,301.63 L127.2,301.46 L129.2,301.28 L131.2,301.10 L133.2,300.91 L135.2,300.72 L137.2,300.52 L139.2,300.32 L141.2,300.12 L143.2,299.91 L145.2,299.70 L147.2,299.49 L149.2,299.27 L151.2,299.05 L153.2,298.82 L155.2,298.59 L157.2,298.36 L159.2,298.13 L161.2,297.90 L163.2,297.66 L165.2,297.42 L167.2,297.18 L169.2,296.94 L171.2,296.70 L173.2,296.46 L175.2,296.21 L177.2,295.97 L179.2,295.73 L181.2,295.49 L183.2,295.25 L185.2,295.02 L187.2,294.78 L189.2,294.55 L191.2,294.33 L193.2,294.10 L195.2,293.88 L197.2,293.67 L199.2,293.46 L201.2,293.25 L203.2,293.05 L205.2,292.85 L207.2,292.66 L209.2,292.47 L211.2,292.29 L213.2,292.12 L215.2,291.95 L217.2,291.79 L219.2,291.63 L221.2,291.48 L223.2,291.34 L225.2,291.20 L227.2,291.07 L229.2,290.94 L231.2,290.82 L233.2,290.71 L235.2,290.60 L237.2,290.50 L239.2,290.41 L241.2,290.32 L243.2,290.24 L245.2,290.16 L247.2,290.09 L249.2,290.03 L251.2,289.97 L253.2,289.92 L255.2,289.87 L257.2,289.83 L259.2,289.79 L261.2,289.76 L263.2,289.74 L265.2,289.72 L267.2,289.70 L269.2,289.70 L271.2,289.69 L273.2,289.70 L275.2,289.71 L277.2,289.73 L279.2,289.75 L281.2,289.78 L283.2,289.81 L285.2,289.85 L287.2,289.90 L289.2,289.96 L291.2,290.02 L293.2,290.08 L295.2,290.16 L297.2,290.24 L299.2,290.33 L301.2,290.42 L303.2,290.52 L305.2,290.63 L307.2,290.74 L309.2,290.87 L311.2,291.00 L313.2,291.13 L315.2,291.28 L317.2,291.43 L319.2,291.59 L321.2,291.76 L323.2,291.93 L325.2,292.12 L327.2,292.31 L329.2,292.51 L331.2,292.71 L333.2,292.92 L335.2,293.14 L337.2,293.37 L339.2,293.60 L341.2,293.83 L343.2,294.07 L345.2,294.32 L347.2,294.57 L349.2,294.82 L351.2,295.08 L353.2,295.35 L355.2,295.62 L357.2,295.90 L359.2,296.18 L361.2,296.47 L363.2,296.77 L365.2,297.08 L367.2,297.39 L369.2,297.71 L371.2,298.03 L373.2,298.35 L375.2,298.68 L377.2,299.01 L379.2,299.34 L381.2,299.67 L383.2,300.00 L385.2,300.32 L387.2,300.64 L389.2,300.95 L391.2,301.26 L393.2,301.57 L395.2,301.88 L397.2,302.19 L399.2,302.50 L401.2,302.82 L403.2,303.15 L405.2,303.49 L407.2,303.83 L409.2,304.19 L411.2,304.57 L413.2,304.96 L415.2,305.36 L417.2,305.76 L419.2,306.18 L421.2,306.61 L423.2,307.04 L425.2,307.47 L427.2,307.91 L429.2,308.35 L431.2,308.78 L433.2,309.22 L435.2,309.65 L437.2,310.08 L439.2,310.51 L441.2,310.93 L443.2,311.35 L445.2,311.77 L447.2,312.19 L449.2,312.60 L451.2,313.00 L453.2,313.41 L455.2,313.80 L457.2,314.20 L459.2,314.58 L461.2,314.96 L463.2,315.33 L465.2,315.70 L467.2,316.05 L469.2,316.40 L471.2,316.74 L473.2,317.06 L475.2,317.37 L477.2,317.68 L479.2,317.97 L481.2,318.24 L483.2,318.51 L485.2,318.76 L487.2,319.01 L489.2,319.24 L491.2,319.47 L493.2,319.68 L495.2,319.89 L497.2,320.08 L499.2,320.27 L501.2,320.45 L503.2,320.62 L505.2,320.78 L507.2,320.93 L509.2,321.08 L511.2,321.22 L513.2,321.35 L515.2,321.48 L517.2,321.60 L519.2,321.71 L521.2,321.82 L523.2,321.93 L525.2,322.03 L527.2,322.12 L529.2,322.21 L531.2,322.30 L533.2,322.38 L536.0,322.45" fill="none" stroke="#FFC000" stroke-width="2.05" stroke-linejoin="round" stroke-linecap="butt"/>
<path d="M57.2,298.60 L59.2,298.56 L61.2,298.52 L63.2,298.49 L65.2,298.47 L67.2,298.45 L69.2,298.44 L71.2,298.44 L73.2,298.44 L75.2,298.44 L77.2,298.45 L79.2,298.46 L81.2,298.47 L83.2,298.49 L85.2,298.51 L87.2,298.52 L89.2,298.54 L91.2,298.56 L93.2,298.58 L95.2,298.60 L97.2,298.62 L99.2,298.64 L101.2,298.66 L103.2,298.68 L105.2,298.70 L107.2,298.72 L109.2,298.74 L111.2,298.76 L113.2,298.78 L115.2,298.80 L117.2,298.81 L119.2,298.83 L121.2,298.84 L123.2,298.85 L125.2,298.85 L127.2,298.85 L129.2,298.84 L131.2,298.83 L133.2,298.81 L135.2,298.79 L137.2,298.75 L139.2,298.71 L141.2,298.66 L143.2,298.60 L145.2,298.53 L147.2,298.46 L149.2,298.37 L151.2,298.28 L153.2,298.19 L155.2,298.09 L157.2,297.98 L159.2,297.87 L161.2,297.76 L163.2,297.65 L165.2,297.54 L167.2,297.43 L169.2,297.31 L171.2,297.20 L173.2,297.10 L175.2,296.99 L177.2,296.88 L179.2,296.78 L181.2,296.68 L183.2,296.59 L185.2,296.49 L187.2,296.40 L189.2,296.32 L191.2,296.23 L193.2,296.15 L195.2,296.07 L197.2,296.00 L199.2,295.93 L201.2,295.87 L203.2,295.80 L205.2,295.75 L207.2,295.69 L209.2,295.64 L211.2,295.59 L213.2,295.54 L215.2,295.50 L217.2,295.45 L219.2,295.41 L221.2,295.37 L223.2,295.33 L225.2,295.30 L227.2,295.26 L229.2,295.22 L231.2,295.19 L233.2,295.15 L235.2,295.12 L237.2,295.09 L239.2,295.07 L241.2,295.04 L243.2,295.02 L245.2,295.00 L247.2,294.99 L249.2,294.98 L251.2,294.98 L253.2,294.98 L255.2,294.98 L257.2,294.99 L259.2,295.00 L261.2,295.02 L263.2,295.04 L265.2,295.07 L267.2,295.10 L269.2,295.14 L271.2,295.18 L273.2,295.23 L275.2,295.28 L277.2,295.33 L279.2,295.39 L281.2,295.45 L283.2,295.52 L285.2,295.59 L287.2,295.66 L289.2,295.74 L291.2,295.82 L293.2,295.91 L295.2,296.00 L297.2,296.09 L299.2,296.19 L301.2,296.29 L303.2,296.39 L305.2,296.50 L307.2,296.61 L309.2,296.72 L311.2,296.84 L313.2,296.96 L315.2,297.08 L317.2,297.21 L319.2,297.33 L321.2,297.46 L323.2,297.59 L325.2,297.72 L327.2,297.86 L329.2,297.99 L331.2,298.12 L333.2,298.26 L335.2,298.39 L337.2,298.52 L339.2,298.66 L341.2,298.79 L343.2,298.92 L345.2,299.05 L347.2,299.19 L349.2,299.32 L351.2,299.45 L353.2,299.58 L355.2,299.72 L357.2,299.85 L359.2,299.99 L361.2,300.12 L363.2,300.26 L365.2,300.40 L367.2,300.54 L369.2,300.69 L371.2,300.84 L373.2,300.98 L375.2,301.14 L377.2,301.29 L379.2,301.46 L381.2,301.62 L383.2,301.79 L385.2,301.97 L387.2,302.15 L389.2,302.33 L391.2,302.53 L393.2,302.73 L395.2,302.93 L397.2,303.15 L399.2,303.37 L401.2,303.60 L403.2,303.83 L405.2,304.06 L407.2,304.30 L409.2,304.55 L411.2,304.80 L413.2,305.05 L415.2,305.31 L417.2,305.56 L419.2,305.82 L421.2,306.08 L423.2,306.34 L425.2,306.61 L427.2,306.87 L429.2,307.13 L431.2,307.39 L433.2,307.65 L435.2,307.91 L437.2,308.16 L439.2,308.41 L441.2,308.66 L443.2,308.91 L445.2,309.15 L447.2,309.39 L449.2,309.62 L451.2,309.84 L453.2,310.06 L455.2,310.28 L457.2,310.49 L459.2,310.69 L461.2,310.89 L463.2,311.09 L465.2,311.28 L467.2,311.46 L469.2,311.64 L471.2,311.81 L473.2,311.98 L475.2,312.15 L477.2,312.31 L479.2,312.46 L481.2,312.61 L483.2,312.75 L485.2,312.89 L487.2,313.03 L489.2,313.15 L491.2,313.28 L493.2,313.39 L495.2,313.51 L497.2,313.61 L499.2,313.71 L501.2,313.81 L503.2,313.90 L505.2,313.98 L507.2,314.05 L509.2,314.12 L511.2,314.19 L513.2,314.24 L515.2,314.29 L517.2,314.34 L519.2,314.38 L521.2,314.41 L523.2,314.43 L525.2,314.45 L527.2,314.47 L529.2,314.48 L531.2,314.48 L533.2,314.47 L536.0,314.47" fill="none" stroke="#1269CC" stroke-width="2.05" stroke-linejoin="round" stroke-linecap="butt"/>
<path d="M57.2,298.15 L59.2,298.17 L61.2,298.20 L63.2,298.22 L65.2,298.25 L67.2,298.27 L69.2,298.29 L71.2,298.30 L73.2,298.32 L75.2,298.33 L77.2,298.35 L79.2,298.36 L81.2,298.37 L83.2,298.38 L85.2,298.39 L87.2,298.39 L89.2,298.40 L91.2,298.40 L93.2,298.40 L95.2,298.40 L97.2,298.40 L99.2,298.40 L101.2,298.40 L103.2,298.39 L105.2,298.39 L107.2,298.38 L109.2,298.37 L111.2,298.36 L113.2,298.35 L115.2,298.34 L117.2,298.33 L119.2,298.32 L121.2,298.30 L123.2,298.29 L125.2,298.28 L127.2,298.26 L129.2,298.24 L131.2,298.22 L133.2,298.21 L135.2,298.19 L137.2,298.17 L139.2,298.15 L141.2,298.13 L143.2,298.10 L145.2,298.08 L147.2,298.06 L149.2,298.04 L151.2,298.01 L153.2,297.99 L155.2,297.96 L157.2,297.94 L159.2,297.91 L161.2,297.89 L163.2,297.86 L165.2,297.84 L167.2,297.81 L169.2,297.78 L171.2,297.76 L173.2,297.73 L175.2,297.70 L177.2,297.67 L179.2,297.65 L181.2,297.62 L183.2,297.59 L185.2,297.56 L187.2,297.54 L189.2,297.51 L191.2,297.48 L193.2,297.46 L195.2,297.43 L197.2,297.40 L199.2,297.38 L201.2,297.36 L203.2,297.33 L205.2,297.31 L207.2,297.29 L209.2,297.27 L211.2,297.25 L213.2,297.23 L215.2,297.21 L217.2,297.20 L219.2,297.18 L221.2,297.17 L223.2,297.16 L225.2,297.15 L227.2,297.14 L229.2,297.13 L231.2,297.13 L233.2,297.12 L235.2,297.12 L237.2,297.12 L239.2,297.13 L241.2,297.13 L243.2,297.14 L245.2,297.15 L247.2,297.16 L249.2,297.17 L251.2,297.18 L253.2,297.20 L255.2,297.22 L257.2,297.24 L259.2,297.26 L261.2,297.29 L263.2,297.32 L265.2,297.35 L267.2,297.38 L269.2,297.41 L271.2,297.45 L273.2,297.49 L275.2,297.53 L277.2,297.57 L279.2,297.62 L281.2,297.67 L283.2,297.72 L285.2,297.77 L287.2,297.82 L289.2,297.88 L291.2,297.94 L293.2,298.00 L295.2,298.07 L297.2,298.13 L299.2,298.20 L301.2,298.27 L303.2,298.35 L305.2,298.42 L307.2,298.50 L309.2,298.58 L311.2,298.66 L313.2,298.75 L315.2,298.84 L317.2,298.92 L319.2,299.01 L321.2,299.10 L323.2,299.20 L325.2,299.29 L327.2,299.39 L329.2,299.49 L331.2,299.58 L333.2,299.68 L335.2,299.78 L337.2,299.89 L339.2,299.99 L341.2,300.09 L343.2,300.20 L345.2,300.30 L347.2,300.41 L349.2,300.51 L351.2,300.62 L353.2,300.73 L355.2,300.83 L357.2,300.94 L359.2,301.05 L361.2,301.16 L363.2,301.27 L365.2,301.38 L367.2,301.49 L369.2,301.60 L371.2,301.72 L373.2,301.83 L375.2,301.95 L377.2,302.07 L379.2,302.19 L381.2,302.32 L383.2,302.44 L385.2,302.58 L387.2,302.71 L389.2,302.85 L391.2,302.99 L393.2,303.13 L395.2,303.28 L397.2,303.43 L399.2,303.58 L401.2,303.74 L403.2,303.89 L405.2,304.05 L407.2,304.21 L409.2,304.37 L411.2,304.53 L413.2,304.70 L415.2,304.86 L417.2,305.03 L419.2,305.19 L421.2,305.36 L423.2,305.52 L425.2,305.68 L427.2,305.85 L429.2,306.01 L431.2,306.17 L433.2,306.32 L435.2,306.48 L437.2,306.63 L439.2,306.78 L441.2,306.93 L443.2,307.07 L445.2,307.21 L447.2,307.34 L449.2,307.47 L451.2,307.60 L453.2,307.72 L455.2,307.83 L457.2,307.95 L459.2,308.06 L461.2,308.16 L463.2,308.26 L465.2,308.36 L467.2,308.45 L469.2,308.54 L471.2,308.63 L473.2,308.71 L475.2,308.79 L477.2,308.87 L479.2,308.95 L481.2,309.02 L483.2,309.09 L485.2,309.16 L487.2,309.22 L489.2,309.28 L491.2,309.34 L493.2,309.40 L495.2,309.45 L497.2,309.50 L499.2,309.55 L501.2,309.60 L503.2,309.64 L505.2,309.68 L507.2,309.72 L509.2,309.76 L511.2,309.79 L513.2,309.82 L515.2,309.85 L517.2,309.88 L519.2,309.91 L521.2,309.93 L523.2,309.95 L525.2,309.97 L527.2,309.99 L529.2,310.01 L531.2,310.02 L533.2,310.04 L536.0,310.05" fill="none" stroke="#3FB034" stroke-width="2.05" stroke-linejoin="round" stroke-linecap="butt"/>
<path d="M57.2,297.90 L59.2,297.92 L61.2,297.94 L63.2,297.97 L65.2,297.99 L67.2,298.01 L69.2,298.03 L71.2,298.05 L73.2,298.07 L75.2,298.09 L77.2,298.10 L79.2,298.12 L81.2,298.13 L83.2,298.15 L85.2,298.16 L87.2,298.18 L89.2,298.19 L91.2,298.20 L93.2,298.21 L95.2,298.22 L97.2,298.23 L99.2,298.24 L101.2,298.25 L103.2,298.26 L105.2,298.26 L107.2,298.27 L109.2,298.28 L111.2,298.28 L113.2,298.29 L115.2,298.29 L117.2,298.30 L119.2,298.30 L121.2,298.30 L123.2,298.31 L125.2,298.31 L127.2,298.31 L129.2,298.32 L131.2,298.32 L133.2,298.32 L135.2,298.32 L137.2,298.32 L139.2,298.33 L141.2,298.33 L143.2,298.33 L145.2,298.33 L147.2,298.33 L149.2,298.33 L151.2,298.33 L153.2,298.33 L155.2,298.33 L157.2,298.34 L159.2,298.34 L161.2,298.34 L163.2,298.34 L165.2,298.34 L167.2,298.34 L169.2,298.34 L171.2,298.35 L173.2,298.35 L175.2,298.35 L177.2,298.35 L179.2,298.36 L181.2,298.36 L183.2,298.36 L185.2,298.37 L187.2,298.37 L189.2,298.38 L191.2,298.38 L193.2,298.39 L195.2,298.39 L197.2,298.40 L199.2,298.41 L201.2,298.42 L203.2,298.42 L205.2,298.43 L207.2,298.44 L209.2,298.45 L211.2,298.46 L213.2,298.48 L215.2,298.49 L217.2,298.50 L219.2,298.51 L221.2,298.53 L223.2,298.54 L225.2,298.56 L227.2,298.58 L229.2,298.59 L231.2,298.61 L233.2,298.63 L235.2,298.65 L237.2,298.67 L239.2,298.70 L241.2,298.72 L243.2,298.75 L245.2,298.77 L247.2,298.80 L249.2,298.82 L251.2,298.85 L253.2,298.88 L255.2,298.91 L257.2,298.94 L259.2,298.97 L261.2,299.00 L263.2,299.03 L265.2,299.06 L267.2,299.09 L269.2,299.12 L271.2,299.15 L273.2,299.18 L275.2,299.22 L277.2,299.25 L279.2,299.28 L281.2,299.32 L283.2,299.35 L285.2,299.39 L287.2,299.42 L289.2,299.46 L291.2,299.50 L293.2,299.54 L295.2,299.58 L297.2,299.63 L299.2,299.67 L301.2,299.72 L303.2,299.77 L305.2,299.82 L307.2,299.87 L309.2,299.92 L311.2,299.97 L313.2,300.03 L315.2,300.08 L317.2,300.14 L319.2,300.20 L321.2,300.26 L323.2,300.32 L325.2,300.38 L327.2,300.44 L329.2,300.50 L331.2,300.57 L333.2,300.63 L335.2,300.70 L337.2,300.77 L339.2,300.84 L341.2,300.91 L343.2,300.98 L345.2,301.05 L347.2,301.12 L349.2,301.20 L351.2,301.28 L353.2,301.36 L355.2,301.44 L357.2,301.52 L359.2,301.60 L361.2,301.69 L363.2,301.77 L365.2,301.86 L367.2,301.95 L369.2,302.04 L371.2,302.14 L373.2,302.23 L375.2,302.33 L377.2,302.42 L379.2,302.52 L381.2,302.62 L383.2,302.72 L385.2,302.82 L387.2,302.92 L389.2,303.02 L391.2,303.12 L393.2,303.23 L395.2,303.33 L397.2,303.44 L399.2,303.54 L401.2,303.64 L403.2,303.75 L405.2,303.85 L407.2,303.96 L409.2,304.06 L411.2,304.17 L413.2,304.27 L415.2,304.37 L417.2,304.47 L419.2,304.57 L421.2,304.67 L423.2,304.77 L425.2,304.87 L427.2,304.97 L429.2,305.07 L431.2,305.16 L433.2,305.26 L435.2,305.35 L437.2,305.44 L439.2,305.53 L441.2,305.62 L443.2,305.71 L445.2,305.80 L447.2,305.88 L449.2,305.97 L451.2,306.05 L453.2,306.14 L455.2,306.22 L457.2,306.30 L459.2,306.37 L461.2,306.45 L463.2,306.53 L465.2,306.60 L467.2,306.67 L469.2,306.74 L471.2,306.81 L473.2,306.87 L475.2,306.93 L477.2,307.00 L479.2,307.06 L481.2,307.11 L483.2,307.17 L485.2,307.22 L487.2,307.27 L489.2,307.32 L491.2,307.36 L493.2,307.41 L495.2,307.45 L497.2,307.49 L499.2,307.52 L501.2,307.56 L503.2,307.59 L505.2,307.62 L507.2,307.64 L509.2,307.67 L511.2,307.69 L513.2,307.70 L515.2,307.72 L517.2,307.73 L519.2,307.74 L521.2,307.75 L523.2,307.75 L525.2,307.75 L527.2,307.75 L529.2,307.74 L531.2,307.73 L533.2,307.72 L536.0,307.70" fill="none" stroke="#145F9E" stroke-width="2.05" stroke-linejoin="round" stroke-linecap="butt"/>
<path d="M57.2,300.24 L59.2,300.21 L61.2,300.19 L63.2,300.17 L65.2,300.15 L67.2,300.13 L69.2,300.11 L71.2,300.09 L73.2,300.07 L75.2,300.05 L77.2,300.04 L79.2,300.02 L81.2,300.01 L83.2,300.00 L85.2,299.99 L87.2,299.97 L89.2,299.96 L91.2,299.95 L93.2,299.94 L95.2,299.94 L97.2,299.93 L99.2,299.92 L101.2,299.92 L103.2,299.91 L105.2,299.91 L107.2,299.90 L109.2,299.90 L111.2,299.90 L113.2,299.89 L115.2,299.89 L117.2,299.89 L119.2,299.89 L121.2,299.90 L123.2,299.90 L125.2,299.90 L127.2,299.90 L129.2,299.91 L131.2,299.91 L133.2,299.92 L135.2,299.92 L137.2,299.93 L139.2,299.94 L141.2,299.95 L143.2,299.96 L145.2,299.97 L147.2,299.98 L149.2,299.99 L151.2,300.00 L153.2,300.01 L155.2,300.02 L157.2,300.04 L159.2,300.05 L161.2,300.06 L163.2,300.08 L165.2,300.09 L167.2,300.11 L169.2,300.12 L171.2,300.14 L173.2,300.16 L175.2,300.17 L177.2,300.19 L179.2,300.21 L181.2,300.23 L183.2,300.25 L185.2,300.26 L187.2,300.28 L189.2,300.30 L191.2,300.33 L193.2,300.35 L195.2,300.37 L197.2,300.39 L199.2,300.41 L201.2,300.44 L203.2,300.46 L205.2,300.48 L207.2,300.51 L209.2,300.53 L211.2,300.56 L213.2,300.59 L215.2,300.61 L217.2,300.64 L219.2,300.67 L221.2,300.70 L223.2,300.73 L225.2,300.76 L227.2,300.79 L229.2,300.81 L231.2,300.84 L233.2,300.87 L235.2,300.90 L237.2,300.93 L239.2,300.96 L241.2,300.99 L243.2,301.02 L245.2,301.05 L247.2,301.08 L249.2,301.11 L251.2,301.13 L253.2,301.16 L255.2,301.19 L257.2,301.21 L259.2,301.24 L261.2,301.27 L263.2,301.29 L265.2,301.32 L267.2,301.34 L269.2,301.37 L271.2,301.39 L273.2,301.41 L275.2,301.44 L277.2,301.46 L279.2,301.48 L281.2,301.50 L283.2,301.53 L285.2,301.55 L287.2,301.57 L289.2,301.59 L291.2,301.61 L293.2,301.63 L295.2,301.65 L297.2,301.67 L299.2,301.69 L301.2,301.71 L303.2,301.73 L305.2,301.75 L307.2,301.77 L309.2,301.79 L311.2,301.81 L313.2,301.83 L315.2,301.85 L317.2,301.87 L319.2,301.89 L321.2,301.91 L323.2,301.93 L325.2,301.95 L327.2,301.97 L329.2,301.99 L331.2,302.01 L333.2,302.03 L335.2,302.04 L337.2,302.06 L339.2,302.08 L341.2,302.11 L343.2,302.13 L345.2,302.15 L347.2,302.17 L349.2,302.19 L351.2,302.21 L353.2,302.23 L355.2,302.25 L357.2,302.28 L359.2,302.30 L361.2,302.32 L363.2,302.35 L365.2,302.37 L367.2,302.40 L369.2,302.42 L371.2,302.45 L373.2,302.47 L375.2,302.50 L377.2,302.52 L379.2,302.55 L381.2,302.58 L383.2,302.60 L385.2,302.63 L387.2,302.66 L389.2,302.68 L391.2,302.71 L393.2,302.74 L395.2,302.76 L397.2,302.79 L399.2,302.81 L401.2,302.84 L403.2,302.87 L405.2,302.89 L407.2,302.92 L409.2,302.94 L411.2,302.97 L413.2,302.99 L415.2,303.02 L417.2,303.04 L419.2,303.06 L421.2,303.09 L423.2,303.11 L425.2,303.13 L427.2,303.16 L429.2,303.18 L431.2,303.20 L433.2,303.22 L435.2,303.24 L437.2,303.26 L439.2,303.28 L441.2,303.30 L443.2,303.31 L445.2,303.33 L447.2,303.35 L449.2,303.36 L451.2,303.38 L453.2,303.39 L455.2,303.41 L457.2,303.42 L459.2,303.43 L461.2,303.45 L463.2,303.46 L465.2,303.47 L467.2,303.48 L469.2,303.49 L471.2,303.50 L473.2,303.51 L475.2,303.52 L477.2,303.53 L479.2,303.53 L481.2,303.54 L483.2,303.55 L485.2,303.55 L487.2,303.56 L489.2,303.56 L491.2,303.57 L493.2,303.57 L495.2,303.57 L497.2,303.57 L499.2,303.57 L501.2,303.57 L503.2,303.57 L505.2,303.57 L507.2,303.57 L509.2,303.57 L511.2,303.57 L513.2,303.56 L515.2,303.56 L517.2,303.55 L519.2,303.54 L521.2,303.54 L523.2,303.53 L525.2,303.52 L527.2,303.51 L529.2,303.50 L531.2,303.49 L533.2,303.47 L536.0,303.46" fill="none" stroke="#BF4B0C" stroke-width="2.05" stroke-linejoin="round" stroke-linecap="butt"/>
<line x1="152.1" y1="254.2" x2="152.1" y2="368.6" stroke="#161616" stroke-width="1.2"/>
<line x1="415.7" y1="254.2" x2="415.7" y2="368.6" stroke="#161616" stroke-width="1.2"/>
<line x1="57.2" y1="274.5" x2="62.2" y2="274.5" stroke="#262626" stroke-width="1.2"/>
<text x="45.1" y="276.3" class="t15" text-anchor="end">21</text>
<line x1="57.2" y1="305.6" x2="62.2" y2="305.6" stroke="#262626" stroke-width="1.2"/>
<text x="45.1" y="308.8" class="t15" text-anchor="end">19</text>
<line x1="57.2" y1="337.1" x2="62.2" y2="337.1" stroke="#262626" stroke-width="1.2"/>
<text x="45.1" y="341.3" class="t15" text-anchor="end">17</text>
<text x="45.1" y="373.8" class="t15" text-anchor="end">15</text>
<text x="57.2" y="392.9" class="t15" text-anchor="middle">0</text>
<line x1="176.6" y1="368.6" x2="176.6" y2="364.0" stroke="#262626" stroke-width="1.2"/>
<text x="176.6" y="392.9" class="t15" text-anchor="middle">50</text>
<line x1="296.1" y1="368.6" x2="296.1" y2="364.0" stroke="#262626" stroke-width="1.2"/>
<text x="296.1" y="392.9" class="t15" text-anchor="middle">100</text>
<line x1="415.5" y1="368.6" x2="415.5" y2="364.0" stroke="#262626" stroke-width="1.2"/>
<text x="415.5" y="392.9" class="t15" text-anchor="middle">150</text>
<text x="534.9" y="392.9" class="t15" text-anchor="middle">200</text>
<text x="296" y="414.2" class="t15" text-anchor="middle">Distance (µm)</text>
<text class="t17" transform="translate(20.6 370.6) rotate(-90)"><tspan x="0" y="0" textLength="64.5" lengthAdjust="spacingAndGlyphs">Cr content</tspan> <tspan x="70" y="0" textLength="41.5" lengthAdjust="spacingAndGlyphs">(.wt%)</tspan></text>
<text x="276" y="446" class="cap" text-anchor="middle">(<tspan font-weight="bold">b</tspan>)</text>
<text x="87.6" y="279" class="t11">Matrix</text>
<text x="462.5" y="281.2" class="t11">Matrix</text>
<text x="270.1" y="335.3" class="t12" textLength="34.6" lengthAdjust="spacingAndGlyphs">δ-ferrite</text>
</svg>
</body></html>
